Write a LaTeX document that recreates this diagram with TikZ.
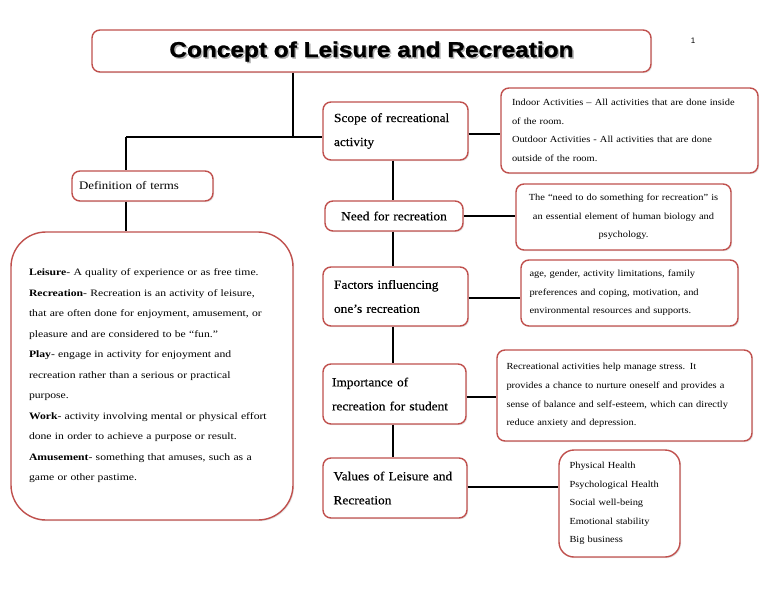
\documentclass[tikz,border=0pt]{standalone}
\usepackage{fontspec}
\defaultfontfeatures{Ligatures=TeX}
\setmainfont{Liberation Serif}
\newfontfamily\titlefont[FakeStretch=1.13,FakeBold=1.2]{Liberation Sans Bold}
\newfontfamily\pnumfont{Liberation Sans}
\newfontfamily\descfont[FakeStretch=1.12]{Liberation Serif}
\newfontfamily\bigfont[FakeStretch=1.19,BoldFont={Liberation Serif Bold}]{Liberation Serif}
\newfontfamily\headfont[FakeStretch=1.07,FakeBold=0.4]{Liberation Serif}
\usetikzlibrary{shadows}
\definecolor{boxred}{RGB}{192,80,77}
\tikzset{
  box/.style={draw=boxred, line width=1.4pt, fill=white, rounded corners=8pt,
    inner sep=0pt, drop shadow={opacity=0.2, shadow xshift=1.2pt, shadow yshift=-1.2pt}},
  head/.style={box, font=\headfont\fontsize{12.5}{24}\selectfont, align=left},
  desc/.style={box, font=\descfont\fontsize{9.3}{18.6}\selectfont, align=left},
  conn/.style={line width=2.4pt, black},
}
\begin{document}
\begin{tikzpicture}[x=1pt,y=-1pt]
\useasboundingbox (0,0) rectangle (768,594);
\fill[white] (0,0) rectangle (768,594);
% title
\node[box, minimum width=559pt, minimum height=42pt] (title) at (371.5,51) {};
\node[font=\titlefont\fontsize{21.6}{24}\selectfont, text=gray!60] at (373,53) {Concept of Leisure and Recreation};
\node[font=\titlefont\fontsize{21.6}{24}\selectfont] (titletxt) at (371.5,51.5) {Concept of Leisure and Recreation};
\node[font=\pnumfont\fontsize{8}{10}\selectfont] (pnum) at (693,41) {1};
% left
\node[box, minimum width=141pt, minimum height=30pt, font=\descfont\fontsize{11.5}{13}\selectfont, text width=127pt, align=left] (def) at (142.5,186) {Definition of terms};
\node[box, rounded corners=35pt, minimum width=282pt, minimum height=288pt, text width=246pt, font=\bigfont\fontsize{9.8}{20.5}\selectfont, align=left] (big) at (152,376) {%
\textbf{Leisure}- A quality of experience or as free time.\\
\textbf{Recreation}- Recreation is an activity of leisure,\\
that are often done for enjoyment, amusement, or\\
pleasure and are considered to be “fun.”\\
\textbf{Play}- engage in activity for enjoyment and\\
recreation rather than a serious or practical\\
purpose.\\
\textbf{Work}- activity involving mental or physical effort\\
done in order to achieve a purpose or result.\\
\textbf{Amusement}- something that amuses, such as a\\
game or other pastime.};
% middle column
\node[head, minimum width=145pt, minimum height=58pt, text width=123pt] (scope) at (395.5,131) {Scope of recreational\\activity};
\node[head, minimum width=138pt, minimum height=30pt, text width=134pt, align=center] (need) at (394,216) {Need for recreation};
\node[head, minimum width=145pt, minimum height=59pt, text width=123pt] (fact) at (395.5,296.5) {Factors influencing\\one’s recreation};
\node[head, minimum width=143pt, minimum height=60pt, text width=125pt] (imp) at (394.5,394) {Importance of\\recreation for student};
\node[head, minimum width=144pt, minimum height=60pt, text width=123pt] (val) at (395,488) {Values of Leisure and\\Recreation};
% right column
\node[desc, minimum width=257pt, minimum height=85pt, text width=235pt] (scoped) at (629.5,130.5) {%
Indoor Activities – All activities that are done inside\\
of the room.\\
Outdoor Activities - All activities that are done\\
outside of the room.};
\node[desc, minimum width=215pt, minimum height=66pt, text width=205pt, align=center] (needd) at (623.5,217) {%
The “need to do something for recreation” is\\
an essential element of human biology and\\
psychology.};
\node[desc, minimum width=217pt, minimum height=66pt, text width=200pt] (factd) at (629.5,293) {%
age, gender, activity limitations, family\\
preferences and coping, motivation, and\\
environmental resources and supports.};
\node[desc, minimum width=255pt, minimum height=91pt, text width=236pt] (impd) at (624.5,395.5) {%
Recreational activities help manage stress. It\\
provides a chance to nurture oneself and provides a\\
sense of balance and self-esteem, which can directly\\
reduce anxiety and depression.};
\node[desc, rounded corners=15pt, minimum width=121pt, minimum height=107pt, text width=100pt] (vald) at (619.5,503.5) {%
Physical Health\\
Psychological Health\\
Social well-being\\
Emotional stability\\
Big business};
% connectors
\coordinate (tj) at (293,137);
\coordinate (lj) at (126,137);
\coordinate (tr) at (393,0);
\draw[conn] (title.south -| tj) -- (tj);
\draw[conn] (lj) -- (scope.west |- lj);
\draw[conn] (lj) -- (def.north -| lj);
\draw[conn] (def.south -| lj) -- (big.north -| lj);
\draw[conn] (scope.south -| tr) -- (need.north -| tr);
\draw[conn] (need.south -| tr) -- (fact.north -| tr);
\draw[conn] (fact.south -| tr) -- (imp.north -| tr);
\draw[conn] (imp.south -| tr) -- (val.north -| tr);
\draw[conn] (scope.east) ++(0,3) coordinate (s1) -- (scoped.west |- s1);
\draw[conn] (need.east) -- (needd.west |- need.east);
\draw[conn] (fact.east) ++(0,1.5) coordinate (f1) -- (factd.west |- f1);
\draw[conn] (imp.east) ++(0,3) coordinate (i1) -- (impd.west |- i1);
\draw[conn] (val.east) ++(0,-1) coordinate (v1) -- (vald.west |- v1);
\end{tikzpicture}
\end{document}
